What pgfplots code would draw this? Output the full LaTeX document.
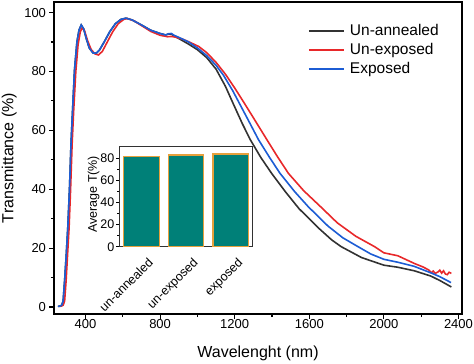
\documentclass[border=0pt]{standalone}
\usepackage{pgfplots}
\pgfplotsset{compat=1.18}
\usepackage{fontspec}
\setmainfont{Liberation Sans}
\definecolor{cblack}{RGB}{50,50,50}
\definecolor{cred}{RGB}{232,40,42}
\definecolor{cblue}{RGB}{28,92,212}
\definecolor{cteal}{RGB}{0,128,120}
\definecolor{corange}{RGB}{230,160,60}
\begin{document}
\begin{tikzpicture}
\useasboundingbox (-54bp,-50bp) rectangle (420bp,314bp);
\begin{axis}[
 at={(0,0)}, anchor=south west,
 scale only axis, width=408bp, height=312bp,
 xmin=231, xmax=2419, ymin=-2.38, ymax=103.6,
 axis line style={line width=1.6bp},
 xtick={400,800,...,2400}, ytick={0,20,...,100},
 minor x tick num=1, minor y tick num=1,
 xtick pos=left, ytick pos=left,
 tick align=outside,
 major tick length=4.5bp, minor tick length=3bp,
 tick style={line width=1.1bp, black},
 /pgf/number format/assume math mode=true,
 /pgf/number format/set thousands separator={},
 ticklabel style={font=\fontsize{13bp}{15bp}\selectfont},
 xticklabel style={yshift=3bp},
 xlabel={Wavelenght (nm)}, ylabel={Transmittance (\%)},
 label style={font=\fontsize{16bp}{19bp}\selectfont},
 xlabel style={at={(axis description cs:0.5,-0.141)}, anchor=base},
 ylabel style={at={(axis description cs:-0.0998,0.5)}, anchor=base},
 legend style={draw=none, fill=none, at={(axis description cs:0.6225,0.93)}, anchor=north west,
   inner sep=0pt, outer sep=0pt, row sep=5.5bp, column sep=5bp,
   font=\fontsize{15.5bp}{18bp}\selectfont,
   nodes={inner sep=0pt, text height=11.5bp, text depth=2bp}},
 legend cell align=left,
 legend image code/.code={\draw[#1, line width=2bp] (0bp,0bp) -- (35bp,0bp);},
 every axis plot/.append style={line width=1.6bp},
]
\addplot[cblack] coordinates {
(252,0.2) (262,0.3) (272,0.6) (280,2) (288,9) (297,18) (305,27) (314,40) (322,55) (330,66) (341,80.5) (354,90) (365,94) (377,95.8) (390,94.5) (405,91) (420,88) (440,86.3) (457,86.2) (475,87.3) (500,90) (530,93.5) (560,96.2) (590,97.7) (617,98.1) (650,97.5) (700,95.8) (750,94) (800,92.9) (830,92.4) (845,92.7) (860,92.7)
(875,92.1) (900,91.2) (950,89.4) (1000,87.4) (1050,84.7) (1100,80.8) (1150,75) (1194,68.8) (1240,62.4) (1283,56.9) (1340,50.8) (1398,45.4) (1470,39.3) (1545,33.4) (1650,26.8) (1720,22.8) (1771,20.5) (1880,16.8) (2000,14.2) (2075,13.5) (2163,12.3) (2252,10.5) (2300,9) (2362,6.8)
};
\addlegendentry{Un-annealed}
\addplot[cred] coordinates {
(258,0.2) (270,0.3) (280,0.6) (288,2) (296,9) (304,18) (312,27) (320,40) (328,55) (336,66) (348,80) (360,89) (372,93.5) (382,94.8) (395,93.8) (412,90.3) (430,87.5) (450,86) (469,85.6) (490,86.8) (515,89.8) (545,93.4) (575,96.2) (605,97.7) (625,98) (660,97.2) (700,95.6) (750,93.6) (800,92.3) (840,91.8) (860,91.9) (880,91.7) (920,91) (960,89.9) (1007,88.5) (1050,86.4) (1100,83.1) (1150,79.1) (1200,74.4) (1250,69.4) (1300,64.3) (1372,56.9) (1430,51) (1488,45.4) (1570,39.5) (1670,33.5) (1750,28.6) (1850,24) (1950,20.5) (2000,18.4) (2075,17.4) (2163,14.8) (2210,13.6) (2240,12.6) (2255,11.6) (2265,12.2) (2275,11.4) (2290,11.9) (2300,12.5) (2310,11.5) (2320,12.3) (2330,11.2) (2340,11.0) (2350,11.8) (2362,11.4)
};
\addlegendentry{Un-exposed}
\addplot[cblue] coordinates {
(252,0.2) (262,0.3) (272,0.6) (280,2) (288,9) (297,18) (305,27) (314,40) (322,55) (330,66) (341,80.5) (354,90) (365,94) (377,95.8) (390,94.5) (405,91) (420,88) (440,86.3) (457,86.2) (475,87.3) (500,90) (530,93.5) (560,96.2) (590,97.7) (617,98.1) (650,97.5) (700,95.8) (750,94) (800,92.9) (830,92.4) (845,92.8) (860,92.9) (875,92.3) (900,91.6) (950,90.1) (1000,88) (1050,85.4) (1100,82.1) (1141,78.6) (1190,73.4) (1230,68.6) (1280,62.6) (1327,56.9) (1385,51) (1443,45.4) (1520,39.3) (1594,34.1) (1700,27.5) (1780,23.5) (1861,20.5) (1930,18) (2000,16.2) (2075,15.2) (2163,13.8) (2252,11.6) (2300,10.3) (2330,9.3) (2360,8.3)
};
\addlegendentry{Exposed}
\end{axis}
\begin{axis}[
 at={(65bp,67.3bp)}, anchor=south west,
 scale only axis, width=133.7bp, height=100.7bp,
 xmin=-0.5, xmax=2.49, ymin=0, ymax=90.8,
 ybar, bar width=35.5bp,
 xtick={0,1,2}, xticklabels={un-annealed,un-exposed,exposed},
 ytick={0,20,...,80}, minor y tick num=1,
 ytick pos=left, xtick style={draw=none},
 tick align=outside, major tick length=3bp, minor tick length=2bp,
 tick style={line width=0.8bp, black},
 axis line style={line width=1bp, cblack},
 axis background/.style={fill=white},
 /pgf/number format/assume math mode=true,
 ticklabel style={font=\fontsize{12.5bp}{14bp}\selectfont},
 yticklabel style={inner sep=1.5bp},
 xticklabel style={xshift=6bp, yshift=-7bp, rotate=45, anchor=north east, inner sep=0pt},
 ylabel={Average T(\%)},
 ylabel style={font=\fontsize{12.5bp}{14bp}\selectfont, at={(axis description cs:-0.165,0.52)}, anchor=base},
]
\addplot[fill=cteal, draw=corange, line width=1.2bp] coordinates {(0,81.4) (1,82.7) (2,83.6)};
\end{axis}
\end{tikzpicture}
\end{document}
